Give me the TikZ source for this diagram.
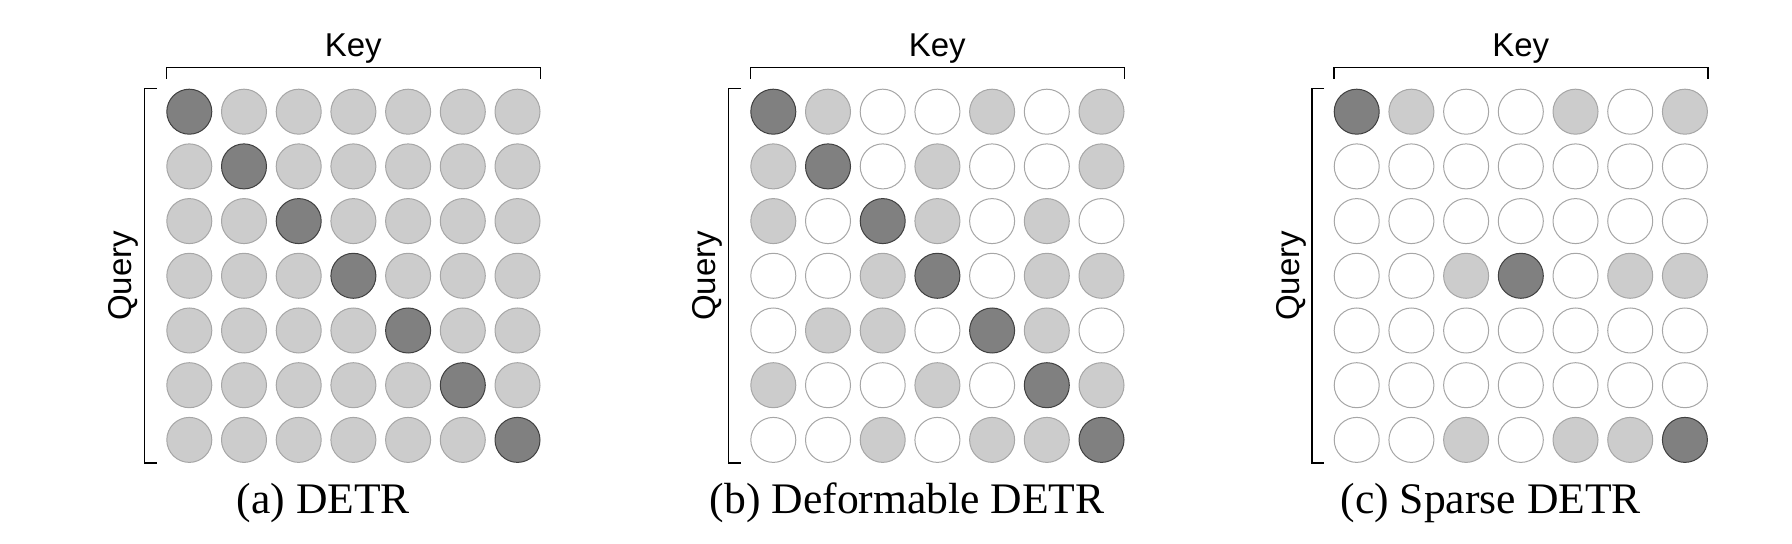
\documentclass[tikz,border=0pt]{standalone}
\usepackage{fontspec}
\setmainfont{Liberation Serif}
\newfontfamily\keyfont{Liberation Sans}
\usetikzlibrary{calc}

\tikzset{
  cell/.style={circle, minimum size=22.5pt, inner sep=0pt, line width=0.5pt},
  wt0/.style={fill=white, draw=black!35},
  wt1/.style={fill=black!20, draw=black!35},
  wt2/.style={fill=black!50, draw=black!75},
  brace line/.style={line width=0.8pt, black},
  axis label/.style={font=\keyfont\fontsize{16.5}{20}\selectfont},
  caption label/.style={font=\fontsize{21.8}{26}\selectfont},
}

% #1 panel name, #2 x of the first column, #3 attention rows, #4 caption
\newcommand{\attnpanel}[4]{%
  % attention weights (0 none, 1 weak, 2 self)
  \foreach \row [count=\r] in {#3} {
    \foreach \v [count=\c] in \row {
      \node[cell, wt\v] (#1-\r-\c) at ({#2+54.7*(\c-1)}, {111.7+54.7*(\r-1)}) {};
    }
  }
  % Key bracket over the columns
  \draw[brace line] ($(#1-1-1.west |- #1-1-1.north)+(0,-10)$) -- ++(0,-11)
    -- ($(#1-1-7.east |- #1-1-7.north)+(0,-21)$) -- ++(0,11);
  % Query bracket left of the rows
  \draw[brace line] ($(#1-1-1.west |- #1-1-1.north)+(-9.5,0)$) -- ++(-12.5,0)
    -- ($(#1-7-1.west |- #1-7-1.south)+(-22,0)$) -- ++(12.5,0);
  \node[axis label, anchor=base] (#1-key) at ({#2+164}, 56.7) {Key};
  \node[axis label, rotate=90, anchor=base] (#1-query) at ({#2-57.6}, 276) {Query};
  \node[caption label, anchor=base] (#1-cap) at ({#2+134}, 513.3) {#4};
}

\begin{document}
\begin{tikzpicture}[x=0.5pt, y=-0.5pt]
\useasboundingbox (0,0) rectangle (1792,544);

% =====================
% (a) full attention
% =====================
\attnpanel{a}{189.3}{{2,1,1,1,1,1,1},{1,2,1,1,1,1,1},{1,1,2,1,1,1,1},{1,1,1,2,1,1,1},
  {1,1,1,1,2,1,1},{1,1,1,1,1,2,1},{1,1,1,1,1,1,2}}{(a) DETR}

% =====================
% (b) deformable attention
% =====================
\attnpanel{b}{773.3}{{2,1,0,0,1,0,1},{1,2,0,1,0,0,1},{1,0,2,1,0,1,0},{0,0,1,2,0,1,1},
  {0,1,1,0,2,1,0},{1,0,0,1,0,2,1},{0,0,1,0,1,1,2}}{(b) Deformable DETR}

% =====================
% (c) sparse queries
% =====================
\attnpanel{c}{1356.7}{{2,1,0,0,1,0,1},{0,0,0,0,0,0,0},{0,0,0,0,0,0,0},{0,0,1,2,0,1,1},
  {0,0,0,0,0,0,0},{0,0,0,0,0,0,0},{0,0,1,0,1,1,2}}{(c) Sparse DETR}
\end{tikzpicture}
\end{document}
